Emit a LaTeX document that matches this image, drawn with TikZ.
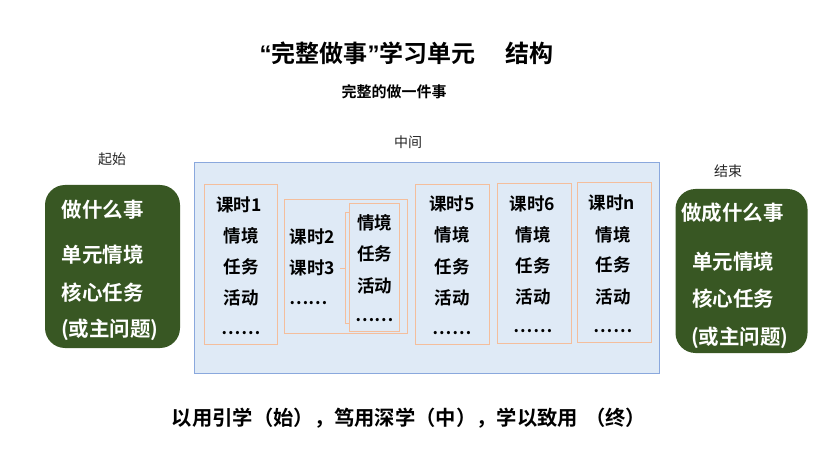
\documentclass[tikz,border=0pt]{standalone}
\usepackage{fontspec}
\setmainfont{Noto Sans CJK SC}[BoldFont={Noto Sans CJK SC Bold}]
\newfontfamily\latinq{Liberation Sans}
\definecolor{dgreen}{HTML}{385723}
\definecolor{bfill}{HTML}{DFEAF6}
\definecolor{bline}{HTML}{8AA8DD}
\definecolor{oline}{HTML}{F4BE9C}
\begin{document}
\begin{tikzpicture}[x=1pt,y=-1pt,
  every node/.style={inner sep=0pt,outer sep=0pt},
  lbox/.style={draw=oline,line width=0.8pt},
  ltext/.style={font=\fontsize{17.5}{20}\selectfont\bfseries},
  gbox/.style={fill=dgreen,rounded corners=20pt},
  gtext/.style={font=\fontsize{20.5}{24}\selectfont\bfseries,text=white,anchor=west},
  small/.style={font=\fontsize{14}{16}\selectfont,text=black!85}]
\useasboundingbox (0,0) rectangle (831,468);
\fill[white] (0,0) rectangle (831,468);
% title
\node (title) at (406.5,53) {\fontsize{24}{27}\selectfont\bfseries{\latinq “}完整做事{\latinq ”}学习单元\hspace{1.25em}结构};
\node (sub) at (394,92) {\fontsize{15}{18}\selectfont\bfseries 完整的做一件事};
\node[small] (mid) at (408,142) {中间};
\node[small] (start) at (112,159) {起始};
\node[small] (end) at (728,171) {结束};
% blue panel
\node[fill=bfill,draw=bline,line width=0.8pt,minimum width=465pt,minimum height=211pt] (panel) at (426.5,267.5) {};
% left green
\node[gbox,minimum width=135pt,minimum height=163pt] (left) at (112.5,266.5) {};
\node[gtext] (l1) at (61.5,210) {做什么事};
\node[gtext] (l2) at (61.5,255) {单元情境};
\node[gtext] (l3) at (61.5,293) {核心任务};
\node[gtext] (l4) at (61,330) {(或主问题)};
% right green
\node[gbox,minimum width=132pt,minimum height=164pt] (right) at (741.5,271) {};
\node[gtext] (r1) at (681,213) {做成什么事};
\node[gtext] (r2) at (692,262) {单元情境};
\node[gtext] (r3) at (692,299) {核心任务};
\node[gtext] (r4) at (691,338) {(或主问题)};
% lesson 1
\node[lbox,minimum width=73pt,minimum height=160pt] (b1) at (240.5,264) {};
\node[ltext] (b1a) at (239,205) {课时1};
\node[ltext] (b1b) at (241,236) {情境};
\node[ltext] (b1c) at (241,267) {任务};
\node[ltext] (b1d) at (241,298) {活动};
\node[ltext] (b1e) at (241,333) {……};
% lesson 2-3
\node[lbox,minimum width=123pt,minimum height=134pt] (b2) at (345.5,266) {};
\node[ltext,anchor=west] (b2a) at (289.5,237) {课时2};
\node[ltext,anchor=west] (b2b) at (289.5,268) {课时3};
\node[ltext,anchor=west] (b2c) at (289.5,303) {……};
\node[lbox,minimum width=50pt,minimum height=128pt] (b3) at (374,267) {};
\node[ltext] (b3a) at (374.5,223) {情境};
\node[ltext] (b3b) at (374.5,254) {任务};
\node[ltext] (b3c) at (374.5,286) {活动};
\node[ltext] (b3d) at (374.5,320) {……};
\coordinate (brt) at (b3.west |- 0,212);
\coordinate (brb) at (b3.west |- 0,323);
\coordinate (brm) at (340,268);
\draw[oline,line width=0.8pt] (brt) -- ++(-4,0) |- (brb);
\draw[oline,line width=0.8pt] (brm) -- ++(5,0);
% lesson 5
\node[lbox,minimum width=74pt,minimum height=160pt] (b5) at (452,264) {};
\node[ltext] (b5a) at (452,204) {课时5};
\node[ltext] (b5b) at (452,235) {情境};
\node[ltext] (b5c) at (452,267) {任务};
\node[ltext] (b5d) at (452,298) {活动};
\node[ltext] (b5e) at (452,333) {……};
% lesson 6
\node[lbox,minimum width=74pt,minimum height=160pt] (b6) at (534,263) {};
\node[ltext] (b6a) at (532.5,204) {课时6};
\node[ltext] (b6b) at (533,235) {情境};
\node[ltext] (b6c) at (533,266) {任务};
\node[ltext] (b6d) at (533,297) {活动};
\node[ltext] (b6e) at (533,331) {……};
% lesson n
\node[lbox,minimum width=74pt,minimum height=160pt] (bn) at (614,262) {};
\node[ltext] (bna) at (612,203) {课时n};
\node[ltext] (bnb) at (613,235) {情境};
\node[ltext] (bnc) at (613,265) {任务};
\node[ltext] (bnd) at (613,297) {活动};
\node[ltext] (bne) at (613,331) {……};
% bottom
\node (motto) at (409,418) {\fontsize{20.3}{24}\selectfont\bfseries 以用引学（始），笃用深学（中），学以致用\hspace{0.35em}（终）};
\end{tikzpicture}
\end{document}
